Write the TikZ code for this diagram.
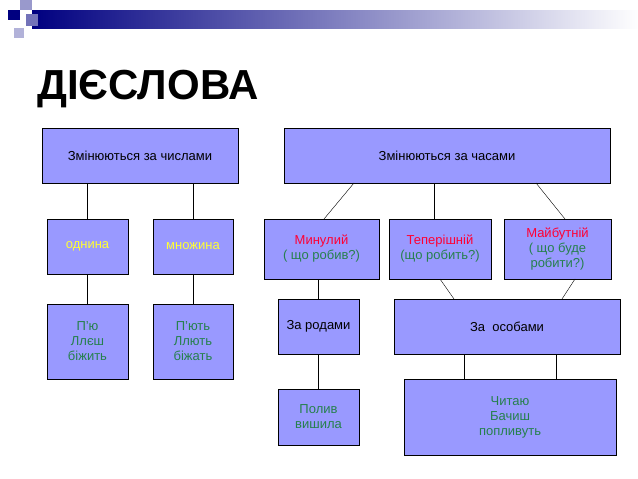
\documentclass[tikz,border=0pt]{standalone}
\usepackage{fontspec}
\setmainfont{Liberation Sans}
\definecolor{boxfill}{HTML}{9999FF}
\definecolor{navy}{HTML}{000080}
\definecolor{txtred}{HTML}{FF0033}
\definecolor{txtgreen}{HTML}{26804D}
\definecolor{txtyellow}{HTML}{FFFF33}
\tikzset{
  blk/.style={draw=black,fill=boxfill,font=\fontsize{13}{15}\selectfont,align=center,inner sep=0pt},
}
\newcommand{\blkbox}[7][black]{\node[blk,text=#1,minimum width=#4-#2,minimum height=#5-#3] (#6) at ({(#2+#4)/2},{(#3+#5)/2}) {#7};}
\begin{document}
\begin{tikzpicture}[x=1pt,y=-1pt]
    \useasboundingbox (0,0) rectangle (638,479);
    % top banner
    \shade[left color=navy,right color=white,draw=none] (32,10) rectangle (640,28);
    \fill[navy] (8,10) rectangle (20,20);
    \fill[navy!40] (20,0) rectangle (32,10);
    \fill[navy!55] (26,14) rectangle (38,26);
    \fill[navy!30] (14,28) rectangle (24,38);
    \node[anchor=base west,font=\fontsize{42}{44}\selectfont\bfseries,inner sep=0pt] (title) at (37,99) {ДІЄСЛОВА};
    % boxes
    \blkbox{42}{128}{238}{183}{num}{Змінюються за числами}
    \blkbox{284}{128}{610}{183}{tense}{Змінюються за часами}
    \blkbox[txtyellow]{47}{219}{128}{274}{sg}{однина}
    \blkbox[txtyellow]{153}{219}{233}{274}{pl}{множина}
    \blkbox[txtgreen]{47}{304}{128}{379}{sgex}{П’ю\\Ллєш\\біжить}
    \blkbox[txtgreen]{153}{304}{233}{379}{plex}{П’ють\\Ллють\\біжать}
    \blkbox[txtgreen]{264}{219}{379}{279}{past}{{\color{txtred}Минулий}\\( що робив?)}
    \blkbox[txtgreen]{389}{219}{491}{279}{pres}{{\color{txtred}Теперішній}\\(що робить?)}
    \blkbox[txtgreen]{504}{219}{611}{279}{fut}{{\color{txtred}Майбутній}\\( що буде\\робити?)}
    \blkbox{278}{299}{359}{354}{gend}{За родами}
    \blkbox{394}{299}{620}{354}{pers}{За~~особами}
    \blkbox[txtgreen]{278}{389}{359}{445}{gendex}{Полив\\вишила}
    \blkbox[txtgreen]{404}{379}{616}{455}{persex}{Читаю\\Бачиш\\попливуть}
    % connectors
    \draw (num.south -| sg) -- (sg);
    \draw (num.south -| pl) -- (pl);
    \draw (sg) -- (sgex);
    \draw (pl) -- (plex);
    \draw (354,183) -- (324,219);
    \draw (tense.south -| 434,0) -- (pres.north -| 434,0);
    \draw (536,183) -- (565,219);
    \draw (past.south -| gend) -- (gend);
    \draw (gend) -- (gendex);
    \draw (440,279) -- (454,299);
    \draw (575,279) -- (562,299);
    \draw (pers.south -| 464,0) -- (persex.north -| 464,0);
    \draw (pers.south -| 556,0) -- (persex.north -| 556,0);
\end{tikzpicture}
\end{document}
